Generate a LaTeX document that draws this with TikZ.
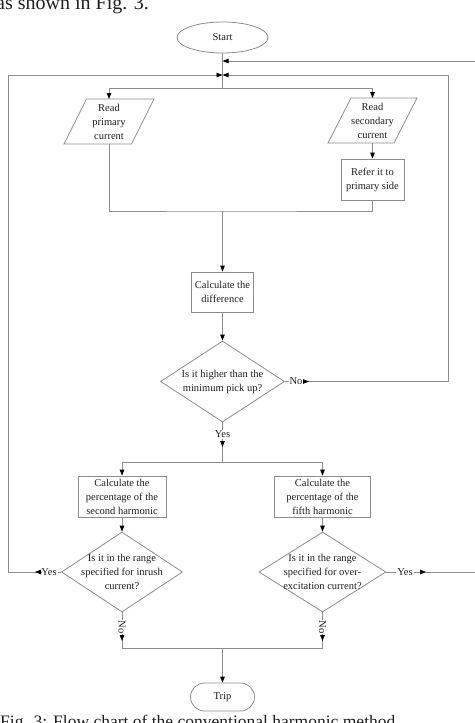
\documentclass[tikz,border=0pt]{standalone}
\usepackage{fontspec}
\setmainfont{Liberation Serif}
\usetikzlibrary{shapes.geometric,arrows.meta}
\definecolor{linegray}{RGB}{140,140,140}
\definecolor{textc}{RGB}{30,30,30}
\begin{document}
\begin{tikzpicture}[x=1pt,y=-1pt,
  ln/.style={draw=linegray, line width=0.8pt},
  arr/.style={ln, -{Triangle[length=6pt,width=4.5pt,color=black]}},
  txt/.style={font=\fontsize{10.5}{14}\selectfont, align=center, text=textc, inner sep=0pt},
  boxn/.style={draw=linegray, line width=0.8pt, rectangle, inner sep=0pt, txt},
  dia/.style={draw=linegray, line width=0.8pt, diamond, inner sep=0pt},
  lbl/.style={font=\fontsize{10.5}{12}\selectfont, fill=white, inner sep=1pt, text=textc},
]
\useasboundingbox (0,0) rectangle (474,723);

% top and bottom text
\node[anchor=base west, font=\fontsize{20}{24}\selectfont, inner sep=0pt, text=textc] (toptext) at (-4,9) {as shown in Fig. 3.};
\node[anchor=base west, font=\fontsize{17.5}{20}\selectfont, inner sep=0pt, text=textc] (caption) at (0,727) {Fig. 3: Flow chart of the conventional harmonic method};

% start
\node[ellipse, draw=linegray, line width=0.8pt, minimum width=91pt, minimum height=31pt, inner sep=0pt, txt] (start) at (222.5,37.5) {Start};
\coordinate (j1) at (222.5,61);
\coordinate (j2) at (222.5,75);
\coordinate (j3) at (222.5,88);
\draw[ln] (start.south) -- (j3);

% parallelograms
\draw[ln] (86.5,99) -- (154,99) -- (131.5,144) -- (64,144) -- cycle;
\node[txt] (pr) at (109,121.5) {Read\\primary\\current};
\coordinate (prN) at (109,99);
\coordinate (prS) at (109,144);
\draw[ln] (351,98) -- (417,98) -- (394,143) -- (328,143) -- cycle;
\node[txt] (ps) at (372.5,120.5) {Read\\secondary\\current};
\coordinate (psN) at (372.5,98);
\coordinate (psS) at (372.5,143);
\draw[arr] (j3) -| (prN);
\draw[arr] (j3) -| (psN);

% refer
\node[boxn, minimum width=63pt, minimum height=41pt] (ref) at (372.5,179.5) {Refer it to\\primary side};
\draw[arr] (psS) -- (ref.north);

% merge
\coordinate (m) at (222.5,211);
\draw[ln] (prS) |- (m) -| (ref.south);

% difference
\node[boxn, minimum width=62pt, minimum height=40pt] (diff) at (222.5,292) {Calculate the\\difference};
\draw[arr] (m) -- (diff.north);

% decision 1
\node[dia, minimum width=124pt, minimum height=81pt] (d1) at (222.5,381.5) {};
\node[txt] (d1t) at (222.5,381.5) {Is it higher than the\\minimum pick up?};
\draw[arr] (diff.south) -- (d1.north);

\coordinate (rl) at (448,381.5);
\coordinate (rt) at (448,75);
\draw[ln] (d1.east) -- (rl) -- (rt);
\draw[arr] (rt) -- (j2);
\node[lbl] (no1) at (296,381.5) {No};
\coordinate (no1a) at (302.5,381.5);
\coordinate (no1b) at (309,381.5);
\draw[arr] (no1a) -- (no1b);

% yes below d1
\coordinate (b) at (222.5,462);
\draw[ln] (d1.south) -- (b);
\node[lbl] (y1) at (222.5,434.5) {Yes};
\coordinate (y1a) at (222.5,440);
\coordinate (y1b) at (222.5,447);
\draw[arr] (y1a) -- (y1b);

% harmonic boxes
\node[boxn, minimum width=88pt, minimum height=41pt] (h2) at (122,496.5) {Calculate the\\percentage of the\\second harmonic};
\node[boxn, minimum width=96pt, minimum height=41pt] (h5) at (322.5,496.5) {Calculate the\\percentage of the\\fifth harmonic};
\draw[arr] (b) -| (h2.north);
\draw[arr] (b) -| (h5.north);

% decisions 2 and 3
\node[dia, minimum width=121pt, minimum height=80pt] (d2) at (122,572) {};
\node[txt] (d2t) at (122,572) {Is it in the range\\specified for inrush\\current?};
\node[dia, minimum width=127pt, minimum height=80pt] (d3) at (322.5,572) {};
\node[txt] (d3t) at (322.5,572) {Is it in the range\\specified for over-\\excitation current?};
\draw[arr] (h2.south) -- (d2.north);
\draw[arr] (h5.south) -- (d3.north);

% left loop
\coordinate (ll) at (8,572);
\coordinate (lt) at (8,75);
\draw[ln] (d2.west) -- (ll) -- (lt);
\draw[arr] (lt) -- (j2);
\node[lbl] (y2) at (49,572) {Yes};
\coordinate (y2a) at (41,572);
\coordinate (y2b) at (35,572);
\draw[arr] (y2a) -- (y2b);

% right loop
\coordinate (rr) at (480,572);
\coordinate (rr2) at (480,61);
\draw[ln] (d3.east) -- (rr) -- (rr2);
\draw[arr] (rr2) -- (j1);
\node[lbl] (y3) at (405,572) {Yes};
\coordinate (y3a) at (419,572);
\coordinate (y3b) at (426,572);
\draw[arr] (y3a) -- (y3b);

% No below d2, d3
\coordinate (m2) at (222.5,648);
\draw[ln] (d2.south) |- (m2);
\draw[ln] (d3.south) |- (m2);
\node[lbl, rotate=-90, inner sep=0.5pt] (no2) at (122,627) {No};
\node[lbl, rotate=-90, inner sep=0.5pt] (no3) at (322.5,627) {No};
\coordinate (no2a) at (122,634);
\coordinate (no2b) at (122,641);
\draw[arr] (no2a) -- (no2b);
\coordinate (no3a) at (322.5,634);
\coordinate (no3b) at (322.5,641);
\draw[arr] (no3a) -- (no3b);

% trip
\node[draw=linegray, line width=0.8pt, rounded corners=14pt, minimum width=64pt, minimum height=28pt, txt] (trip) at (222.5,697) {Trip};
\draw[arr] (m2) -- (trip.north);
\end{tikzpicture}
\end{document}
